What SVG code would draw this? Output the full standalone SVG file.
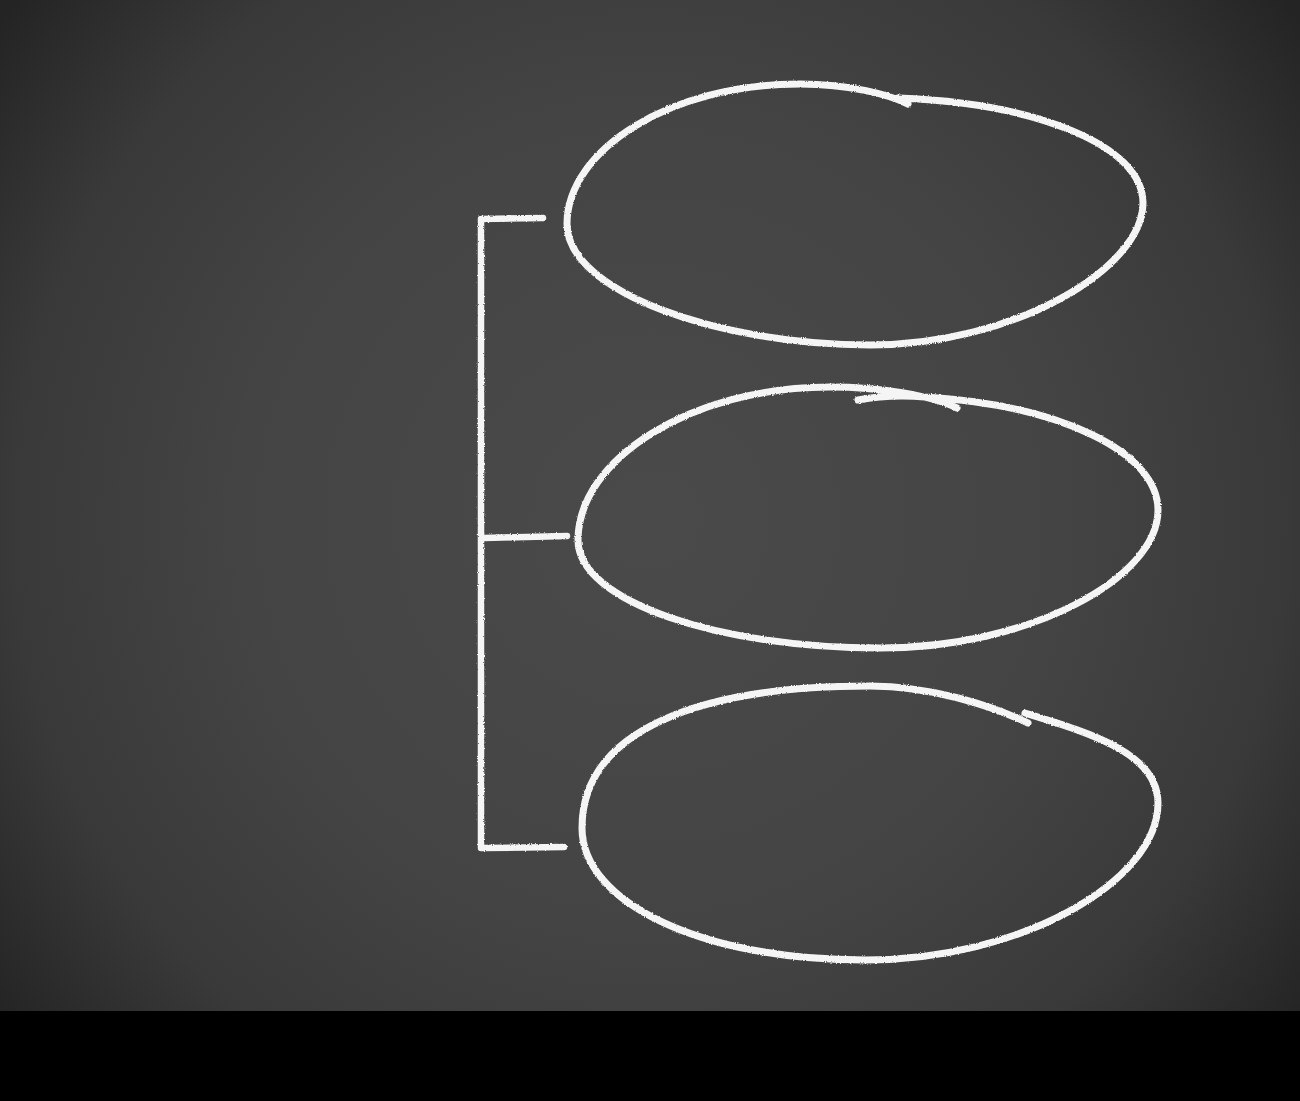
<svg xmlns="http://www.w3.org/2000/svg" width="1300" height="1101" viewBox="0 0 1300 1101">
  <defs>
    <radialGradient id="board" cx="650" cy="520" r="820" gradientUnits="userSpaceOnUse">
      <stop offset="0" stop-color="#4a4a4a"/>
      <stop offset="0.5" stop-color="#444444"/>
      <stop offset="0.78" stop-color="#393939"/>
      <stop offset="1" stop-color="#242424"/>
    </radialGradient>
    <filter id="chalk" x="-5%" y="-5%" width="110%" height="110%">
      <feTurbulence type="fractalNoise" baseFrequency="0.9" numOctaves="2" seed="3" result="n"/>
      <feDisplacementMap in="SourceGraphic" in2="n" scale="2.5" xChannelSelector="R" yChannelSelector="G"/>
    </filter>
    <style>
      .chalk { fill: none; stroke: #f5f5f5; stroke-width: 6.5; stroke-linecap: round; stroke-linejoin: round; }
      .oval { fill: none; stroke: #f5f5f5; stroke-width: 7; stroke-linecap: round; stroke-linejoin: round; }
    </style>
  </defs>

  <rect x="0" y="0" width="1300" height="1011" fill="url(#board)"/>
  <rect x="0" y="1011" width="1300" height="90" fill="#000000"/>

  <g id="connectors" filter="url(#chalk)">
    <path class="chalk" d="M 543 218 L 481 219 L 481 848 L 564 847"/>
    <path class="chalk" d="M 484 538 L 567 536"/>
  </g>

  <g id="node1" filter="url(#chalk)">
    <path class="oval" d="M 898 98 C 1035 103 1143 145 1143 203 C 1143 268 1015 345 870 345 C 720 345 567 292 567 224 C 567 150 670 84 800 84 C 850 84 890 95 908 104"/>
  </g>

  <g id="node2" filter="url(#chalk)">
    <path class="oval" d="M 858 400 Q 890 394 925 397 C 1060 405 1158 452 1158 510 C 1158 578 1030 648 880 648 C 720 648 578 602 578 540 C 578 460 690 387 830 387 C 880 387 930 395 957 408"/>
  </g>

  <g id="node3" filter="url(#chalk)">
    <path class="oval" d="M 1025 713 C 1090 733 1158 753 1158 803 C 1158 882 1020 960 865 960 C 700 960 582 902 582 828 C 582 730 700 686 870 686 C 930 686 990 705 1028 723"/>
  </g>
</svg>
